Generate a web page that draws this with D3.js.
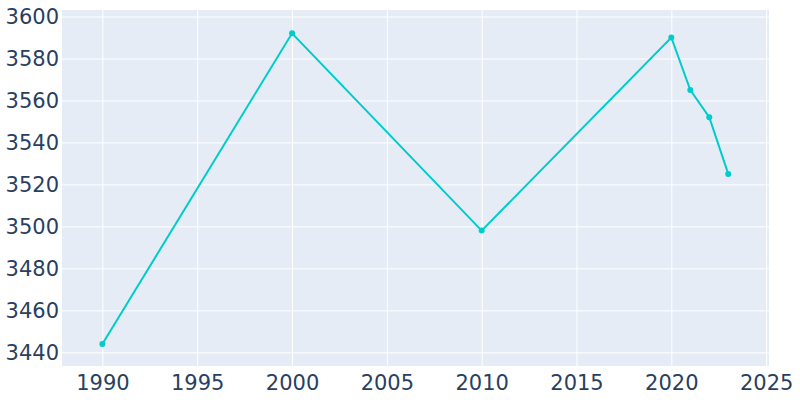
<!DOCTYPE html>
<html><head><meta charset="utf-8">
<script src="https://cdn.jsdelivr.net/npm/d3@7"></script>
<style>body{margin:0;background:#fff}svg{display:block}</style>
</head><body>
<script>
const years = [1990, 2000, 2010, 2020, 2021, 2022, 2023];
const population = [3444, 3592, 3498, 3590, 3565, 3552, 3525];
const xTicks = [1990, 1995, 2000, 2005, 2010, 2015, 2020, 2025];
const yTicks = [3440, 3460, 3480, 3500, 3520, 3540, 3560, 3580, 3600];

const W = 800, H = 400;
const m = {l: 62, r: 31, t: 10, b: 34};
const svg = d3.select("body").append("svg").attr("width", W).attr("height", H);
const x = d3.scaleLinear().domain([1987.87, 2025.15]).range([m.l, W - m.r]);
const y = d3.scaleLinear().domain([3433.5, 3603.1]).range([H - m.b, m.t]);

svg.append("rect").attr("x", m.l).attr("y", m.t)
  .attr("width", W - m.r - m.l).attr("height", H - m.b - m.t).attr("fill", "#e5ecf6");

const font = "'DejaVu Sans', sans-serif";
const gx = svg.append("g").attr("transform", `translate(0,${H - m.b})`)
  .call(d3.axisBottom(x).tickValues(xTicks).tickFormat(d3.format("d")).tickSize(-(H - m.b - m.t)).tickPadding(9));
const gy = svg.append("g").attr("transform", `translate(${m.l},0)`)
  .call(d3.axisLeft(y).tickValues(yTicks).tickFormat(d3.format("d")).tickSize(-(W - m.r - m.l)).tickPadding(3));
[gx, gy].forEach(g => {
  g.select(".domain").remove();
  g.selectAll(".tick line").attr("stroke", "#fff").attr("stroke-width", 1);
  g.selectAll(".tick text").attr("fill", "#2a3f5f").style("font-family", font).style("font-size", "21px");
});

const line = d3.line().x((d, i) => x(years[i])).y(d => y(d));
svg.append("path").datum(population).attr("d", line)
  .attr("fill", "none").attr("stroke", "#00cccc").attr("stroke-width", 2);
svg.selectAll("circle.pt").data(population).enter().append("circle")
  .attr("cx", (d, i) => x(years[i])).attr("cy", d => y(d)).attr("r", 3)
  .attr("fill", "#00cccc");
</script>
</body></html>
